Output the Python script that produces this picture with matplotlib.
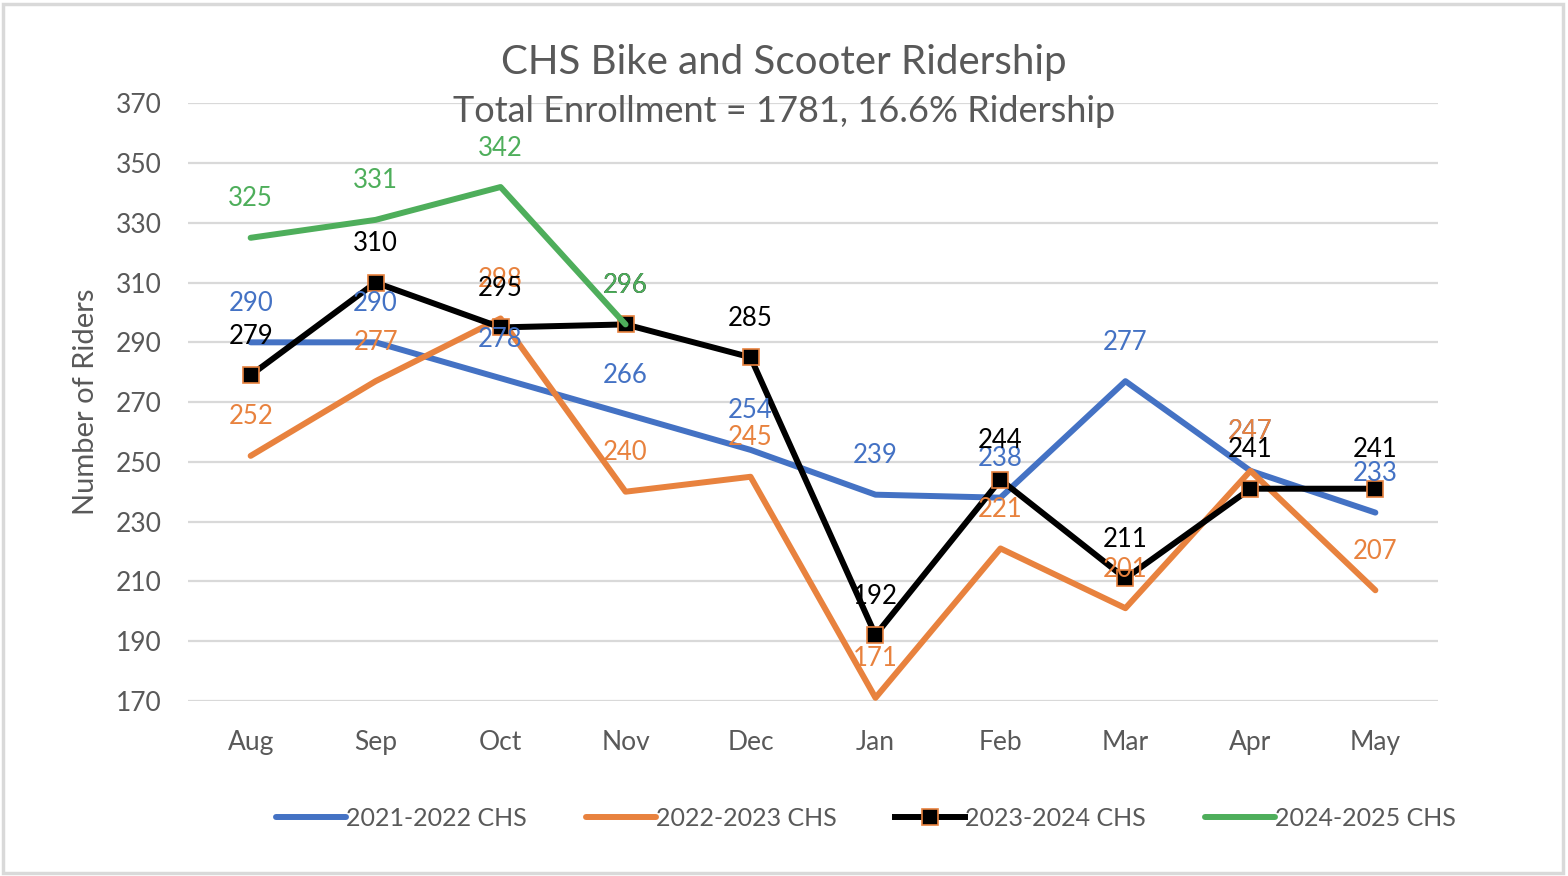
import matplotlib
matplotlib.use('Agg')
import matplotlib.pyplot as plt
from matplotlib.patches import Rectangle

plt.rcParams['font.family'] = ['Lato', 'DejaVu Sans']

months = ['Aug', 'Sep', 'Oct', 'Nov', 'Dec', 'Jan', 'Feb', 'Mar', 'Apr', 'May']
riders_2122 = [290, 290, 278, 266, 254, 239, 238, 277, 247, 233]
riders_2223 = [252, 277, 298, 240, 245, 171, 221, 201, 247, 207]
riders_2324 = [279, 310, 295, 296, 285, 192, 244, 211, 241, 241]
riders_2425 = [325, 331, 342, 296]

labels = ['2021-2022 CHS', '2022-2023 CHS', '2023-2024 CHS', '2024-2025 CHS']
blue = '#4472C4'
orange = '#E8823E'
green = '#4EAE5B'
gray = '#595959'

fig = plt.figure(figsize=(15.68, 8.76), dpi=100)
ax = fig.add_axes([0.120, 0.200, 0.797, 0.682])

x = list(range(len(months)))
ax.plot(x, riders_2122, color=blue, lw=4.3, label=labels[0], solid_capstyle='round', zorder=3)
ax.plot(x, riders_2223, color=orange, lw=4.3, label=labels[1], solid_capstyle='round', zorder=4)
ax.plot(x, riders_2324, color='black', lw=4.3, marker='s', markersize=11,
        markerfacecolor='black', markeredgecolor=orange, markeredgewidth=1.2,
        label=labels[2], zorder=5)
ax.plot(x[:len(riders_2425)], riders_2425, color=green, lw=4.3, label=labels[3],
        solid_capstyle='round', zorder=6)

# data labels above each point
for vals, c in [(riders_2122, blue), (riders_2223, orange),
                (riders_2324, 'black'), (riders_2425, green)]:
    for i, v in enumerate(vals):
        ax.annotate(str(v), (i, v), xytext=(0, 28), textcoords='offset points',
                    ha='center', va='center', fontsize=18.5, color=c, zorder=7)

ax.set_xlim(-0.5, len(months) - 0.5)
ax.set_ylim(170, 370)
ax.set_yticks(range(170, 371, 20))
ax.set_xticks(x)
ax.set_xticklabels(months)
ax.tick_params(axis='both', length=0, labelsize=19, labelcolor=gray)
ax.tick_params(axis='y', pad=19)
ax.tick_params(axis='x', pad=21)
ax.grid(axis='y', color='#D9D9D9', lw=1.6)
ax.set_axisbelow(True)
for s in ax.spines.values():
    s.set_visible(False)
ax.set_ylabel('Number of Riders', fontsize=21, color=gray, labelpad=12)

fig.text(0.5, 0.929, 'CHS Bike and Scooter Ridership', ha='center', va='center',
         fontsize=29, color=gray)
fig.text(0.5, 0.873, 'Total Enrollment = 1781, 16.6% Ridership', ha='center', va='center',
         fontsize=26, color=gray)

leg = ax.legend(loc='center', bbox_to_anchor=(0.5424, -0.197), ncol=4, frameon=False,
                fontsize=18, handlelength=2.8, columnspacing=2.35, handletextpad=0.0,
                labelcolor=gray)

fig.patches.append(Rectangle((0.002, 0.003), 0.995, 0.993, transform=fig.transFigure,
                             fill=False, edgecolor='#D9D9D9', lw=2.5))

fig.savefig('out.png', dpi=100)
